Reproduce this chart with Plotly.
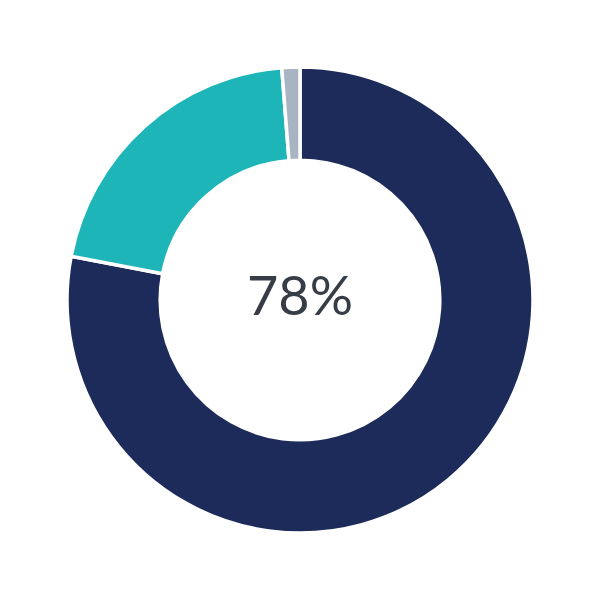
import plotly.graph_objects as go

# ============ Data ============
labels = ["Primary", "Secondary", "Other"]
values = [78, 20.75, 1.25]
colors = ["#1c2b5a", "#1db5b8", "#a9b4c3"]
center_text = "78%"
# ==============================

fig = go.Figure()
fig.add_trace(go.Pie(
    labels=labels,
    values=values,
    hole=0.6,
    sort=False,
    direction="clockwise",
    rotation=0,
    marker=dict(colors=colors, line=dict(color="white", width=3.5)),
    textinfo="none",
    hoverinfo="label+percent",
    showlegend=False,
))

fig.add_annotation(
    text=center_text, x=0.5, y=0.5, xref="paper", yref="paper",
    showarrow=False, yshift=6,
    font=dict(family="Lato", size=54, color="#373d47"),
)

fig.update_layout(
    width=600, height=600,
    margin=dict(l=67, r=67, t=67, b=67),
    paper_bgcolor="white",
    plot_bgcolor="white",
)

# drop the default body margin so the chart sits at the page corner
fig.write_html("out.html", config={"displayModeBar": False},
               post_script="document.body.style.margin='0';")
